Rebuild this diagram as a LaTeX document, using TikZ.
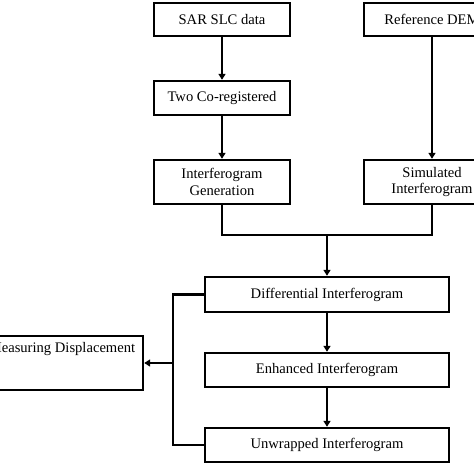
\documentclass[tikz,border=0pt]{standalone}
\usepackage{fontspec}
\setmainfont{Liberation Serif}
\usetikzlibrary{arrows.meta}
\begin{document}
\begin{tikzpicture}
[x=1pt,y=-1pt,line width=2.4pt,
 box/.style={shape=rectangle,draw,inner sep=2pt,align=center,
   font=\fontsize{14.6}{16.5}\selectfont},
 >={Triangle[length=6pt,width=7pt]}]
\useasboundingbox (0,0) rectangle (474,474);
\path (222,19.5) node (sar) [box,minimum width=136pt,minimum height=33pt] {SAR SLC data}
(432,19.5) node (dem) [box,minimum width=136pt,minimum height=33pt] {Reference DEM}
(222,98) node (coreg) [box,minimum width=136pt,minimum height=34pt] {Two Co-registered}
(222,182) node (gen) [box,minimum width=136pt,minimum height=44pt] {Interferogram\\Generation}
(432,182) node (sim) [box,minimum width=136pt,minimum height=44pt] {Simulated\\Interferogram}
(327,294.5) node (diff) [box,minimum width=244pt,minimum height=35pt] {Differential Interferogram}
(327,370) node (enh) [box,minimum width=244pt,minimum height=34pt] {Enhanced Interferogram}
(327,445) node (unw) [box,minimum width=244pt,minimum height=34pt] {Unwrapped Interferogram}
(62,363) node (meas) [box,minimum width=162pt,minimum height=54pt] {}
(62,349) node (meastext) [font=\fontsize{14.6}{16.5}\selectfont] {Measuring Displacement};
\coordinate (join) at (327,235);
\coordinate (fb) at (173,363);
\draw [->] (sar) -- (coreg);
\draw [->] (coreg) -- (gen);
\draw [->] (dem) -- (sim);
\draw (gen.south) |- (join) -| (sim.south);
\draw [->] (join) -- (diff);
\draw [->] (diff) -- (enh);
\draw [->] (enh) -- (unw);
\draw (diff.west) -| (fb) |- (unw.west);
\draw [->] (fb) -- (meas);
\end{tikzpicture}
\end{document}
